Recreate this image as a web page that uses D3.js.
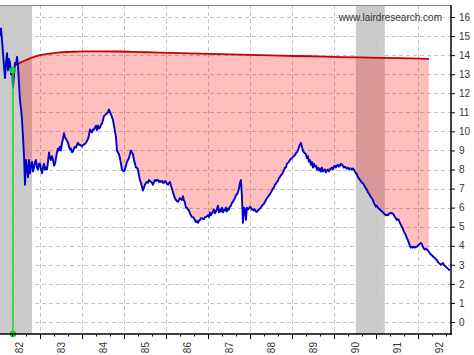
<!DOCTYPE html>
<meta charset="utf-8">
<style>
body { margin: 0; background: #fff; }
svg { display: block; font-family: "Liberation Sans", Arial, sans-serif; }
.grid line { stroke: #c4c4c4; stroke-width: 1; stroke-dasharray: 4,3; }
.axis text { fill: #333; font-size: 10px; }
.axis line { stroke: #000; }
</style>
<svg width="474" height="355"></svg>
<script src="https://d3js.org/d3.v7.min.js"></script>
<script>

  // recessions (shaded gray), decimal years
  var recessions = [[1981.5, 1982.81], [1990.52, 1991.21]];

  // blue series: one reading about every 8.7 days from seriesStart
  var seriesStart = 1982.048, seriesStep = 0.0238;
  var rates = [
    15.0, 15.4, 14.8, 14.1, 13.4, 12.8, 13.6, 14.1, 13.2, 13.8,
    13.6, 13.0, 13.3, 12.3, 13.0, 13.6, 13.5, 13.9, 13.4, 12.5,
    11.6, 11.2, 10.6, 9.7, 8.7, 7.2, 8.5, 8.1, 7.6, 8.5,
    7.8, 8.2, 8.4, 7.9, 8.1, 8.4, 8.5, 8.1, 8.0, 8.3,
    8.3, 8.0, 7.8, 8.1, 8.3, 8.0, 8.1, 8.0, 8.4, 8.9,
    8.6, 8.5, 8.7, 8.5, 8.2, 8.3, 8.6, 8.9, 9.1, 9.0,
    9.2, 9.0, 9.4, 9.6, 9.9, 9.7, 9.6, 9.5, 9.4, 9.2,
    9.05, 9.1, 8.9, 8.95, 9.1, 9.2, 9.15, 9.3, 9.4, 9.3,
    9.3, 9.25, 9.2, 9.3, 9.3, 9.35, 9.4, 9.5, 9.6, 9.8,
    10.1, 10.0, 9.95, 10.1, 10.1, 10.2, 10.3, 10.05, 10.3, 10.15,
    10.2, 10.35, 10.4, 10.6, 10.8, 10.85, 10.9, 10.95, 11.0, 11.15,
    11.0, 10.9, 10.75, 10.6, 10.3, 10.0, 9.7, 9.0, 8.9, 8.8,
    8.6, 8.3, 8.0, 7.95, 7.9, 8.0, 8.2, 8.4, 8.5, 8.6,
    8.8, 9.0, 8.9, 8.8, 8.5, 8.3, 8.1, 8.1, 8.0, 7.7,
    7.45, 7.3, 7.1, 6.9, 7.05, 7.2, 7.3, 7.35, 7.3, 7.45,
    7.4, 7.35, 7.3, 7.2, 7.35, 7.45, 7.4, 7.45, 7.45, 7.35,
    7.4, 7.35, 7.4, 7.3, 7.3, 7.4, 7.35, 7.25, 7.2, 7.3,
    7.35, 7.15, 7.0, 6.8, 6.65, 6.5, 6.4, 6.35, 6.3, 6.4,
    6.5, 6.45, 6.4, 6.6, 6.4, 6.25, 6.0, 6.0, 5.9, 5.85,
    5.7, 5.6, 5.5, 5.5, 5.45, 5.35, 5.25, 5.3, 5.2, 5.3,
    5.35, 5.45, 5.45, 5.4, 5.4, 5.5, 5.5, 5.55, 5.6, 5.5,
    5.75, 5.6, 5.7, 5.8, 5.9, 5.7, 5.8, 5.9, 6.1, 5.75,
    5.9, 5.8, 6.0, 5.75, 5.9, 5.85, 6.0, 5.8, 5.95, 5.9,
    6.05, 6.1, 6.25, 6.3, 6.4, 6.5, 6.65, 6.7, 6.8, 7.0,
    7.3, 7.45, 6.6, 5.2, 6.0, 5.9, 5.35, 6.0, 5.9, 5.95,
    6.05, 6.0, 5.9, 5.9, 5.85, 5.9, 5.8, 5.77, 5.85, 5.9,
    5.95, 6.0, 6.1, 6.15, 6.2, 6.3, 6.4, 6.5, 6.55, 6.65,
    6.7, 6.8, 6.9, 7.0, 7.05, 7.2, 7.25, 7.35, 7.4, 7.55,
    7.6, 7.7, 7.75, 7.85, 7.95, 8.1, 8.1, 8.3, 8.35, 8.4,
    8.5, 8.55, 8.6, 8.65, 8.7, 8.75, 8.85, 8.9, 9.0, 9.15,
    9.3, 9.4, 9.2, 9.0, 8.9, 8.85, 8.8, 8.6, 8.7, 8.4,
    8.5, 8.25, 8.4, 8.1, 8.3, 8.15, 8.2, 8.0, 8.1, 7.95,
    8.05, 7.9, 8.1, 7.9, 7.95, 8.0, 7.85, 7.95, 8.0, 7.9,
    8.0, 8.05, 8.1, 8.0, 8.15, 8.2, 8.1, 8.2, 8.25, 8.15,
    8.2, 8.3, 8.25, 8.2, 8.1, 8.15, 8.1, 8.05, 8.1, 8.0,
    8.05, 8.05, 8.0, 8.05, 8.0, 7.9, 7.8, 7.75, 7.6, 7.55,
    7.45, 7.4, 7.3, 7.3, 7.2, 7.1, 7.0, 6.95, 6.8, 6.75,
    6.65, 6.55, 6.5, 6.4, 6.25, 6.15, 6.05, 6.1, 6.0, 5.95,
    5.9, 5.85, 5.8, 5.75, 5.7, 5.65, 5.6, 5.62, 5.6, 5.68,
    5.7, 5.72, 5.7, 5.7, 5.6, 5.5, 5.45, 5.35, 5.4, 5.35,
    5.2, 5.1, 5.0, 4.9, 4.75, 4.65, 4.55, 4.4, 4.3, 4.15,
    4.0, 3.9, 3.95, 3.9, 3.95, 3.9, 3.95, 3.95, 4.0, 4.05,
    4.1, 4.15, 4.1, 3.95, 3.85, 3.8, 3.85, 3.8, 3.75, 3.7,
    3.6, 3.55, 3.5, 3.45, 3.4, 3.35, 3.3, 3.25, 3.15, 3.1,
    3.05, 3.0, 3.05, 3.1, 3.0, 2.95, 2.9, 2.85, 2.8, 2.75, 2.7
  ];

  // red ceiling line
  var ceilingDates  = [1982.452, 1982.524, 1982.643, 1982.762, 1983.0, 1983.238, 1983.476, 1983.714,
                       1984.071, 1984.429, 1984.905, 1985.381, 1985.857, 1986.571, 1987.286, 1988.0,
                       1988.714, 1989.429, 1990.143, 1990.857, 1991.571, 1992.262];
  var ceilingValues = [13.5, 13.6, 13.72, 13.83, 14.0, 14.08, 14.14, 14.17,
                       14.2, 14.2, 14.19, 14.16, 14.13, 14.09, 14.05, 14.01,
                       13.97, 13.94, 13.9, 13.87, 13.84, 13.8];

  // green signal marker
  var signalDate = 1982.357, signalValue = 13.2;

  var yTicks = d3.range(0, 17);
  var yearTicks = d3.range(1983, 1993);
  var yearLabels = ["82", "83", "84", "85", "86", "87", "88", "89", "90", "91", "92"];
  var firstLabelYear = 1982;

  var svg = d3.select("svg");
  var plotLeft = 0, plotRight = 451, plotTop = 5, plotBottom = 334;

  var x = d3.scaleLinear().domain([1983, 1992]).range([40, 418]);
  var y = d3.scaleLinear().domain([0, 16]).range([322, 17]);

  var series = rates.map(function(v, i) { return {date: seriesStart + i * seriesStep, value: v}; });
  var ceiling = ceilingDates.map(function(d, i) { return {date: d, value: ceilingValues[i]}; });
  var ceilingAt = d3.scaleLinear().domain(ceilingDates).range(ceilingValues).clamp(true);

  svg.append("clipPath").attr("id", "plot")
    .append("rect")
      .attr("x", plotLeft).attr("y", plotTop)
      .attr("width", plotRight - plotLeft).attr("height", plotBottom - plotTop);

  var plot = svg.append("g").attr("clip-path", "url(#plot)");

  // recession bands
  plot.append("g").selectAll("rect")
    .data(recessions)
    .enter().append("rect")
      .attr("x", function(d) { return x(d[0]); })
      .attr("width", function(d) { return x(d[1]) - x(d[0]); })
      .attr("y", plotTop)
      .attr("height", plotBottom - plotTop)
      .attr("fill", "#cbcbcb");

  // grid
  var grid = plot.append("g").attr("class", "grid");
  grid.selectAll("line.h")
    .data(yTicks)
    .enter().append("line")
      .attr("class", "h")
      .attr("x1", plotLeft).attr("x2", plotRight)
      .attr("y1", function(d) { return Math.round(y(d)) + 0.5; })
      .attr("y2", function(d) { return Math.round(y(d)) + 0.5; });
  grid.selectAll("line.v")
    .data(yearTicks)
    .enter().append("line")
      .attr("class", "v")
      .attr("y1", plotTop).attr("y2", plotBottom)
      .attr("x1", function(d) { return Math.round(x(d)) + 0.5; })
      .attr("x2", function(d) { return Math.round(x(d)) + 0.5; });

  // shaded gap between ceiling and rate
  var band = series.filter(function(d) {
    return d.date >= ceilingDates[0] && d.date <= ceilingDates[ceilingDates.length - 1];
  });
  plot.append("path")
    .datum(band)
    .attr("fill", "#ff0000")
    .attr("fill-opacity", 0.25)
    .attr("d", d3.area()
      .x(function(d) { return x(d.date); })
      .y0(function(d) { return y(d.value); })
      .y1(function(d) { return y(ceilingAt(d.date)); }));

  plot.append("path")
    .datum(ceiling)
    .attr("fill", "none")
    .attr("stroke", "#c40000")
    .attr("stroke-width", 1.8)
    .attr("d", d3.line()
      .curve(d3.curveMonotoneX)
      .x(function(d) { return x(d.date); })
      .y(function(d) { return y(d.value); }));

  plot.append("path")
    .datum(series)
    .attr("fill", "none")
    .attr("stroke", "#0000cc")
    .attr("stroke-width", 1.9)
    .attr("stroke-linejoin", "round")
    .attr("d", d3.line()
      .x(function(d) { return x(d.date); })
      .y(function(d) { return y(d.value); }));

  // signal
  var sx = x(signalDate);
  svg.append("line")
    .attr("x1", sx).attr("x2", sx)
    .attr("y1", y(signalValue)).attr("y2", plotBottom)
    .attr("stroke", "#22d022").attr("stroke-width", 1.5);
  svg.selectAll("circle.signal")
    .data([y(signalValue), plotBottom])
    .enter().append("circle")
      .attr("class", "signal")
      .attr("cx", sx).attr("cy", function(d) { return d; })
      .attr("r", 3.2)
      .attr("fill", "#22d022");

  // frame
  svg.append("line")
    .attr("x1", plotLeft).attr("x2", plotRight)
    .attr("y1", plotTop + 0.5).attr("y2", plotTop + 0.5)
    .attr("stroke", "#8a8a8a");

  // right axis
  svg.append("g")
    .attr("class", "axis")
    .attr("transform", "translate(" + plotRight + ",0)")
    .call(d3.axisRight(y).tickValues(yTicks).tickSize(4).tickPadding(4).tickFormat(d3.format("d")))
    .call(function(g) { g.select(".domain").remove(); });

  // bottom axis ticks
  var minorTicks = [];
  d3.range(1982, 1993).forEach(function(yr) { minorTicks.push(yr + 1 / 3, yr + 2 / 3); });
  svg.append("g")
    .attr("class", "axis")
    .attr("transform", "translate(0," + plotBottom + ")")
    .call(d3.axisBottom(x).tickValues(yearTicks).tickSize(5).tickFormat(""))
    .call(function(g) { g.select(".domain").remove(); });
  svg.append("g")
    .attr("class", "axis")
    .attr("transform", "translate(0," + plotBottom + ")")
    .call(d3.axisBottom(x).tickValues(minorTicks.filter(function(t) { return x(t) > 0 && x(t) < plotRight; }))
      .tickSize(2.5).tickFormat(""))
    .call(function(g) { g.select(".domain").remove(); });

  svg.append("line")
    .attr("x1", plotRight).attr("x2", plotRight)
    .attr("y1", plotTop).attr("y2", plotBottom + 1)
    .attr("stroke", "#000").attr("stroke-width", 1.5);
  svg.append("line")
    .attr("x1", plotLeft).attr("x2", plotRight + 1)
    .attr("y1", plotBottom).attr("y2", plotBottom)
    .attr("stroke", "#000").attr("stroke-width", 1.5);

  // year labels (rotated, centred on each year)
  svg.append("g")
    .attr("class", "axis")
    .selectAll("text")
    .data(yearLabels)
    .enter().append("text")
      .attr("transform", function(d, i) {
        return "translate(" + x(firstLabelYear + i + 0.5) + "," + (plotBottom + 8) + ") rotate(-90)";
      })
      .attr("dy", "0.35em")
      .attr("text-anchor", "end")
      .text(function(d) { return d; });

  svg.append("text")
    .attr("x", 442).attr("y", 21)
    .attr("text-anchor", "end")
    .attr("fill", "#333")
    .style("font-size", "10px")
    .text("www.lairdresearch.com");

</script>
